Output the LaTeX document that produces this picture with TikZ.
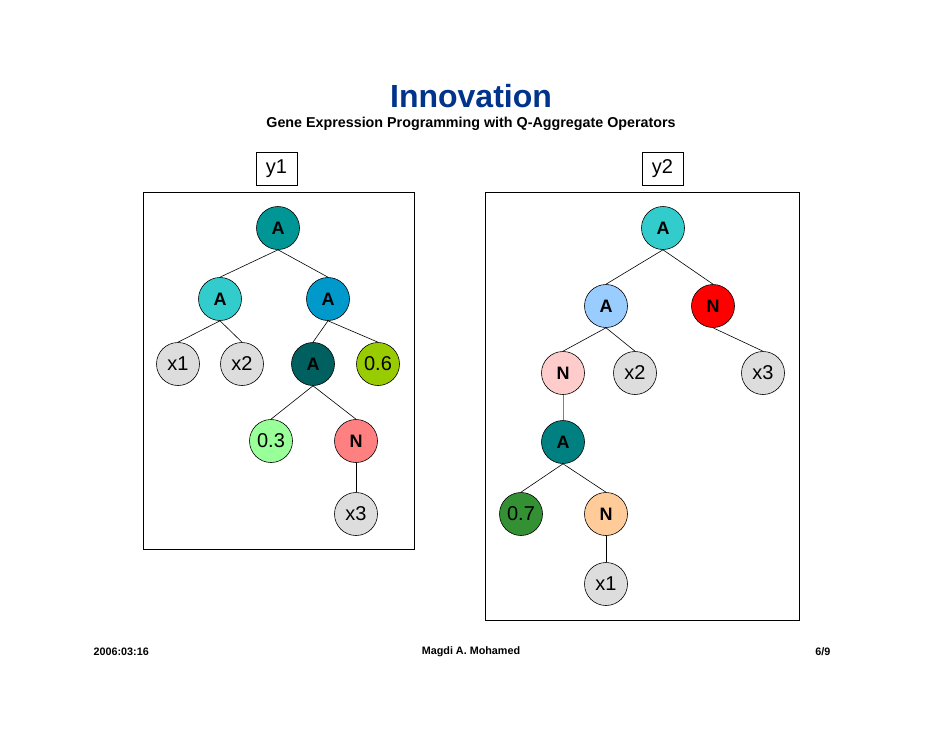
\documentclass[tikz,border=0pt]{standalone}
\usepackage{fontspec}
\setmainfont{Liberation Sans}
\definecolor{titleblue}{RGB}{0,51,140}
\definecolor{cTeal}{RGB}{0,150,150}
\definecolor{cTurq}{RGB}{51,204,204}
\definecolor{cBlue}{RGB}{0,153,204}
\definecolor{cGray}{RGB}{221,221,221}
\definecolor{cDark}{RGB}{0,96,96}
\definecolor{cLime}{RGB}{153,204,0}
\definecolor{cLGreen}{RGB}{153,255,153}
\definecolor{cSalmon}{RGB}{255,128,128}
\definecolor{cLBlue}{RGB}{153,204,255}
\definecolor{cRed}{RGB}{255,0,0}
\definecolor{cPink}{RGB}{255,204,204}
\definecolor{cTeal2}{RGB}{0,128,128}
\definecolor{cGreen}{RGB}{51,145,51}
\definecolor{cPeach}{RGB}{255,204,153}
\begin{document}
\begin{tikzpicture}[x=1pt,y=-1pt,
  gnode/.style={circle,draw=black,line width=0.6pt,minimum size=43pt,inner sep=0pt},
  opnode/.style={gnode,font=\fontsize{18}{18}\selectfont\bfseries},
  valnode/.style={gnode,font=\fontsize{20}{20}\selectfont},
  edge/.style={draw=black,line width=0.6pt},
  frame/.style={draw=black,line width=0.7pt},
  lab/.style={draw=black,line width=0.7pt,minimum width=41pt,minimum height=33pt,inner sep=0pt,font=\fontsize{20}{20}\selectfont},
  foot/.style={font=\fontsize{10.8}{10.8}\selectfont\bfseries}]
\useasboundingbox (0,0) rectangle (942,728);
\fill[white] (0,0) rectangle (942,728);
% title
\node[font=\fontsize{32}{32}\selectfont\bfseries,text=titleblue] (title) at (471,96) {Innovation};
\node[font=\fontsize{14.3}{14.3}\selectfont\bfseries] (sub) at (471,124) {Gene Expression Programming with Q-Aggregate Operators};
% frames
\node[frame,minimum width=271pt,minimum height=357pt,inner sep=0pt] (box1) at (278.5,370.5) {};
\node[frame,minimum width=314pt,minimum height=428pt,inner sep=0pt] (box2) at (642,406) {};
\node[lab] (y1) at (276.5,168.5) {y1};
\node[lab] (y2) at (662.5,168.5) {y2};
% left tree
\node[opnode,fill=cTeal] (l1) at (278,228) {A};
\node[opnode,fill=cTurq] (l2) at (220,299) {A};
\node[opnode,fill=cBlue] (l3) at (328,299) {A};
\node[valnode,fill=cGray] (l4) at (178,364) {x1};
\node[valnode,fill=cGray] (l5) at (242,364) {x2};
\node[opnode,fill=cDark] (l6) at (313,364) {A};
\node[valnode,fill=cLime] (l7) at (378,364) {0.6};
\node[valnode,fill=cLGreen] (l8) at (271,441) {0.3};
\node[opnode,fill=cSalmon] (l9) at (356,441) {N};
\node[valnode,fill=cGray] (l10) at (356,514) {x3};
\draw[edge] (l1.south) -- (l2.north);
\draw[edge] (l1.south) -- (l3.north);
\draw[edge] (l2.south) -- (l4.north);
\draw[edge] (l2.south) -- (l5.north);
\draw[edge] (l3.south) -- (l6.north);
\draw[edge] (l3.south) -- (l7.north);
\draw[edge] (l6.south) -- (l8.north);
\draw[edge] (l6.south) -- (l9.north);
\draw[edge] (l9.south) -- (l10.north);
% right tree
\node[opnode,fill=cTurq] (r1) at (663,228) {A};
\node[opnode,fill=cLBlue] (r2) at (606,306) {A};
\node[opnode,fill=cRed] (r3) at (713,306) {N};
\node[opnode,fill=cPink] (r4) at (563,373) {N};
\node[valnode,fill=cGray] (r5) at (635,373) {x2};
\node[valnode,fill=cGray] (r6) at (763,373) {x3};
\node[opnode,fill=cTeal2] (r7) at (563,442) {A};
\node[valnode,fill=cGreen] (r8) at (521,514) {0.7};
\node[opnode,fill=cPeach] (r9) at (606,514) {N};
\node[valnode,fill=cGray] (r10) at (606,584) {x1};
\draw[edge] (r1.south) -- (r2.north);
\draw[edge] (r1.south) -- (r3.north);
\draw[edge] (r2.south) -- (r4.north);
\draw[edge] (r2.south) -- (r5.north);
\draw[edge] (r3.south) -- (r6.north);
\draw[edge,draw=gray] (r4.south) -- (r7.north);
\draw[edge] (r7.south) -- (r8.north);
\draw[edge] (r7.south) -- (r9.north);
\draw[edge] (r9.south) -- (r10.north);
% footer
\node[foot,anchor=west] (date) at (90,652) {2006:03:16};
\node[foot] (author) at (471,652) {Magdi A. Mohamed};
\node[foot,anchor=east] (page) at (834,652) {6/9};
\end{tikzpicture}
\end{document}
